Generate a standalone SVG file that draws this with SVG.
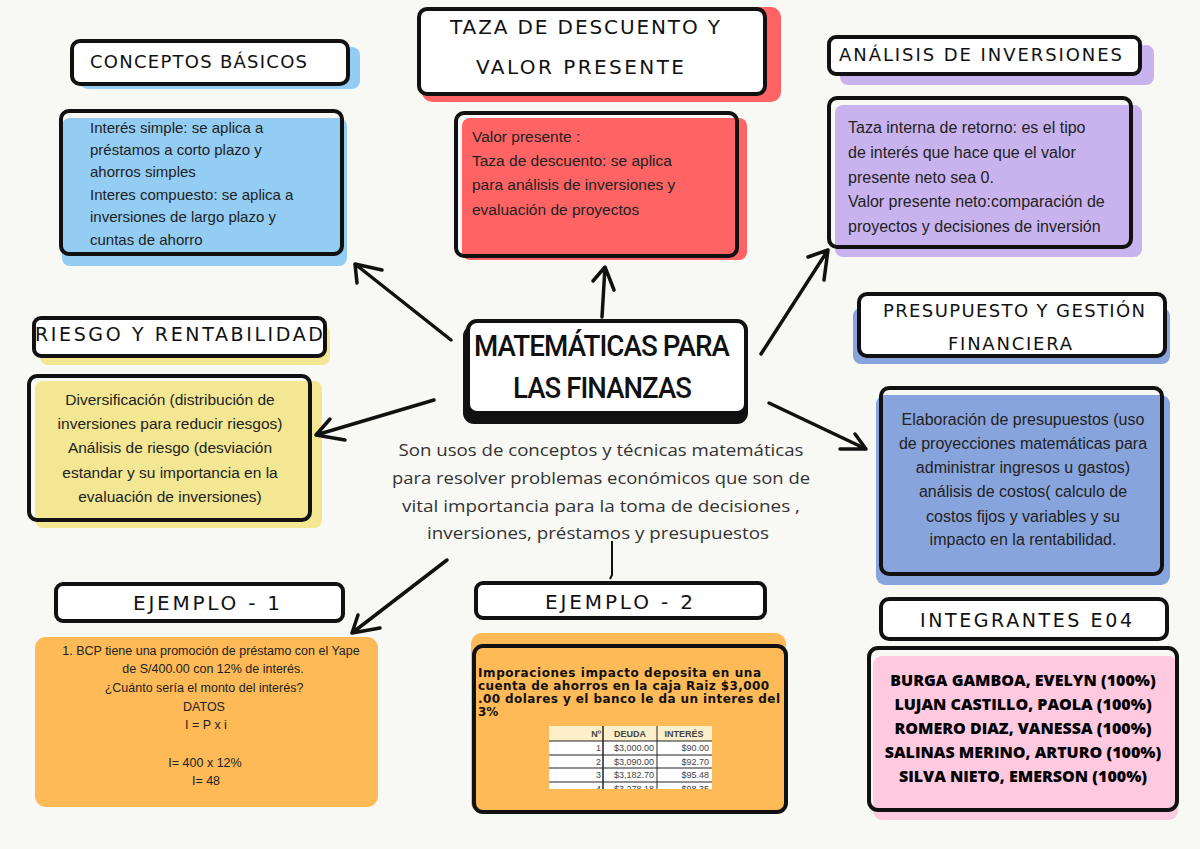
<svg xmlns="http://www.w3.org/2000/svg" width="1200" height="849" viewBox="0 0 1200 849">
<style>
.bd{stroke:#111;stroke-width:4;}
.tb{fill:#fff;stroke:#111;stroke-width:4;}
.tt{font-family:"DejaVu Sans",sans-serif;font-size:18px;fill:#111;}
.body{font-family:"Liberation Sans",sans-serif;font-size:15px;fill:#222;}
.desc{font-family:"Open Sans",sans-serif;font-size:17px;fill:#333;text-anchor:middle;}
.ex1{font-family:"Liberation Sans",sans-serif;font-size:12.5px;fill:#222;text-anchor:middle;}
.ex2{font-family:"DejaVu Sans",sans-serif;font-size:12px;font-weight:bold;fill:#111;}
.mem{font-family:"Open Sans",sans-serif;font-size:16px;font-weight:800;fill:#000;text-anchor:middle;}
.tbl{font-family:"Liberation Sans",sans-serif;font-size:9px;fill:#444;}
.arr{fill:none;stroke:#111;stroke-width:3.5;stroke-linecap:round;stroke-linejoin:round;}
</style>
<defs>
<clipPath id="tclip"><rect x="549" y="726" width="163" height="63"/></clipPath>
</defs>
<rect width="1200" height="849" fill="#f8f8f4"/>

<g id="conceptos">
<rect x="80" y="47" width="280" height="42" rx="8" fill="#93cdf3"/>
<rect class="tb" x="72" y="41" width="276" height="43" rx="8"/>
<text class="tt" x="90" y="68" textLength="217" lengthAdjust="spacing">CONCEPTOS BÁSICOS</text>
<rect x="62" y="118" width="285" height="148" rx="8" fill="#93cdf3"/>
<rect x="61" y="111" width="281" height="143" rx="8" fill="none" class="bd"/>
<text class="body" x="90" y="133">Interés simple: se aplica a</text>
<text class="body" x="90" y="155">préstamos a corto plazo y</text>
<text class="body" x="90" y="177">ahorros simples</text>
<text class="body" x="90" y="200">Interes compuesto: se aplica a</text>
<text class="body" x="90" y="222">inversiones de largo plazo y</text>
<text class="body" x="90" y="245">cuntas de ahorro</text>
</g>

<g id="taza">
<rect x="422" y="7" width="359" height="95" rx="10" fill="#ff6363"/>
<rect class="tb" x="419" y="9" width="346" height="85" rx="8"/>
<text class="tt" x="450" y="34" textLength="270" lengthAdjust="spacing" style="font-size:20px">TAZA DE DESCUENTO Y</text>
<text class="tt" x="476" y="74" textLength="208" lengthAdjust="spacing" style="font-size:20px">VALOR PRESENTE</text>
<rect x="462" y="118" width="285" height="142" rx="8" fill="#ff6363"/>
<rect x="456" y="113" width="281" height="143" rx="8" fill="none" class="bd"/>
<text class="body" x="472" y="142" style="font-size:15.5px">Valor presente :</text>
<text class="body" x="472" y="166" style="font-size:15.5px">Taza de descuento: se aplica</text>
<text class="body" x="472" y="190" style="font-size:15.5px">para análisis de inversiones y</text>
<text class="body" x="472" y="215" style="font-size:15.5px">evaluación de proyectos</text>
</g>

<g id="analisis">
<rect x="840" y="45" width="314" height="40" rx="8" fill="#c9b3ee"/>
<rect class="tb" x="829" y="37" width="311" height="37" rx="7"/>
<text class="tt" x="839" y="61" textLength="283" lengthAdjust="spacing">ANÁLISIS DE INVERSIONES</text>
<rect x="835" y="105" width="307" height="152" rx="8" fill="#c9b3ee"/>
<rect x="829" y="98" width="302" height="149" rx="8" fill="none" class="bd"/>
<text class="body" x="848" y="133" style="font-size:16px">Taza interna de retorno: es el tipo</text>
<text class="body" x="848" y="158" style="font-size:16px">de interés que hace que el valor</text>
<text class="body" x="848" y="183" style="font-size:16px">presente neto sea 0.</text>
<text class="body" x="848" y="207" style="font-size:16px">Valor presente neto:comparación de</text>
<text class="body" x="848" y="232" style="font-size:16px">proyectos y decisiones de inversión</text>
</g>

<g id="riesgo">
<rect x="40" y="325" width="290" height="40" rx="8" fill="#f3e793"/>
<rect class="tb" x="34" y="318" width="291" height="38" rx="7"/>
<text class="tt" x="35" y="341" textLength="288" lengthAdjust="spacing" style="font-size:19px">RIESGO Y RENTABILIDAD</text>
<rect x="35" y="381" width="287" height="147" rx="8" fill="#f3e793"/>
<rect x="29" y="376" width="281" height="144" rx="8" fill="none" class="bd"/>
<g class="body" text-anchor="middle" style="font-size:15.5px">
<text x="170" y="405">Diversificación (distribución de</text>
<text x="170" y="429">inversiones para reducir riesgos)</text>
<text x="170" y="453">Análisis de riesgo (desviación</text>
<text x="170" y="478">estandar y su importancia en la</text>
<text x="170" y="502">evaluación de inversiones)</text>
</g>
</g>

<g id="presupuesto">
<rect x="853" y="308" width="317" height="56" rx="8" fill="#88a4dc"/>
<rect class="tb" x="859" y="294" width="306" height="62" rx="8"/>
<text class="tt" x="883" y="317" textLength="262" lengthAdjust="spacing">PRESUPUESTO Y GESTIÓN</text>
<text class="tt" x="948" y="350" textLength="124" lengthAdjust="spacing">FINANCIERA</text>
<rect x="876" y="395" width="294" height="190" rx="9" fill="#88a4dc"/>
<rect x="881" y="388" width="281" height="186" rx="8" fill="none" class="bd"/>
<g class="body" text-anchor="middle" style="font-size:16px">
<text x="1023" y="425">Elaboración de presupuestos (uso</text>
<text x="1023" y="449">de proyecciones matemáticas para</text>
<text x="1023" y="473">administrar ingresos u gastos)</text>
<text x="1023" y="497">análisis de costos( calculo de</text>
<text x="1023" y="522">costos fijos y variables y su</text>
<text x="1023" y="545">impacto en la rentabilidad.</text>
</g>
</g>

<g id="centro">
<rect x="463" y="325" width="285" height="99" rx="11" fill="#111"/>
<rect x="468" y="321" width="278" height="92" rx="9" fill="#fff" stroke="#111" stroke-width="4"/>
<text x="474" y="356" textLength="255" lengthAdjust="spacingAndGlyphs" style="font-family:'Roboto',sans-serif;font-weight:500;font-size:30px;fill:#111;letter-spacing:-1px">MATEMÁTICAS PARA</text>
<text x="513" y="398" textLength="178" lengthAdjust="spacingAndGlyphs" style="font-family:'Roboto',sans-serif;font-weight:500;font-size:30px;fill:#111;letter-spacing:-1px">LAS FINANZAS</text>
</g>

<g id="descripcion">
<text class="desc" x="601" y="456" textLength="405" lengthAdjust="spacingAndGlyphs">Son usos de conceptos y técnicas matemáticas</text>
<text class="desc" x="601" y="484" textLength="418" lengthAdjust="spacingAndGlyphs">para resolver problemas económicos que son de</text>
<text class="desc" x="601" y="512" textLength="398" lengthAdjust="spacingAndGlyphs">vital importancia para la toma de decisiones ,</text>
<text class="desc" x="598" y="539" textLength="342" lengthAdjust="spacingAndGlyphs">inversiones,  préstamos y presupuestos</text>
</g>

<g id="ejemplo1">
<rect class="tb" x="56" y="584" width="287" height="37" rx="7"/>
<text class="tt" x="133" y="610" textLength="147" lengthAdjust="spacing" style="font-size:20px">EJEMPLO - 1</text>
<rect x="35" y="637" width="343" height="170" rx="11" fill="#fdba57"/>
<text class="ex1" x="211" y="655">1. BCP tiene una promoción de préstamo con el Yape</text>
<text class="ex1" x="213" y="673">de S/400.00 con 12% de interés.</text>
<text class="ex1" x="204" y="692">¿Cuánto sería el monto del interés?</text>
<text class="ex1" x="204" y="711">DATOS</text>
<text class="ex1" x="206" y="729">I = P x i</text>
<text class="ex1" x="205" y="767">I= 400 x 12%</text>
<text class="ex1" x="206" y="785">I= 48</text>
</g>

<g id="ejemplo2">
<rect class="tb" x="476" y="583" width="289" height="35" rx="7"/>
<text class="tt" x="545" y="609" textLength="148" lengthAdjust="spacing" style="font-size:20px">EJEMPLO - 2</text>
<rect x="471" y="633" width="315" height="180" rx="11" fill="#fdba57"/>
<rect x="474" y="646" width="312" height="166" rx="9" fill="none" class="bd"/>
<text class="ex2" x="478" y="677" textLength="283" lengthAdjust="spacing">Imporaciones impacto deposita en una</text>
<text class="ex2" x="478" y="690" textLength="291" lengthAdjust="spacing">cuenta de ahorros en la caja Raiz $3,000</text>
<text class="ex2" x="478" y="703" textLength="302" lengthAdjust="spacing">.00 dolares y el banco le da un interes del</text>
<text class="ex2" x="478" y="716">3%</text>
<g clip-path="url(#tclip)">
<rect x="549" y="726" width="163" height="70" fill="#fff"/>
<rect x="549" y="726" width="163" height="15" fill="#fdefc9"/>
<g stroke="#222" stroke-width="1">
<line x1="549" y1="741" x2="712" y2="741"/>
<line x1="549" y1="755" x2="712" y2="755"/>
<line x1="549" y1="768" x2="712" y2="768"/>
<line x1="549" y1="782" x2="712" y2="782"/>
<line x1="603" y1="726" x2="603" y2="790" stroke-width="1.5"/>
<line x1="657" y1="726" x2="657" y2="790"/>
</g>
<text class="tbl" x="601" y="737" text-anchor="end" font-weight="bold">Nº</text>
<text class="tbl" x="630" y="737" text-anchor="middle" font-weight="bold">DEUDA</text>
<text class="tbl" x="684" y="737" text-anchor="middle" font-weight="bold">INTERÉS</text>
<text class="tbl" x="601" y="751" text-anchor="end">1</text>
<text class="tbl" x="654" y="751" text-anchor="end">$3,000.00</text>
<text class="tbl" x="709" y="751" text-anchor="end">$90.00</text>
<text class="tbl" x="601" y="765" text-anchor="end">2</text>
<text class="tbl" x="654" y="765" text-anchor="end">$3,090.00</text>
<text class="tbl" x="709" y="765" text-anchor="end">$92.70</text>
<text class="tbl" x="601" y="778" text-anchor="end">3</text>
<text class="tbl" x="654" y="778" text-anchor="end">$3,182.70</text>
<text class="tbl" x="709" y="778" text-anchor="end">$95.48</text>
<text class="tbl" x="601" y="792" text-anchor="end">4</text>
<text class="tbl" x="654" y="792" text-anchor="end">$3,278.18</text>
<text class="tbl" x="709" y="792" text-anchor="end">$98.35</text>
</g>
</g>

<g id="integrantes">
<rect class="tb" x="881" y="599" width="286" height="40" rx="8"/>
<text class="tt" x="920" y="627" textLength="212" lengthAdjust="spacing" style="font-size:19px">INTEGRANTES E04</text>
<rect x="873" y="656" width="305" height="164" rx="9" fill="#ffc9df"/>
<rect x="869" y="648" width="308" height="162" rx="9" fill="none" class="bd"/>
<text class="mem" x="1023" y="686">BURGA GAMBOA, EVELYN (100%)</text>
<text class="mem" x="1023" y="710">LUJAN CASTILLO, PAOLA (100%)</text>
<text class="mem" x="1023" y="734">ROMERO DIAZ, VANESSA (100%)</text>
<text class="mem" x="1023" y="758">SALINAS MERINO, ARTURO (100%)</text>
<text class="mem" x="1023" y="782">SILVA NIETO, EMERSON (100%)</text>
</g>

<g id="conectores">
<path class="arr" d="M451,340 L355,264 M357,283 L355,264 L382,270"/>
<path class="arr" d="M602,317 L605,267 M593,281 L605,267 L614,290"/>
<path class="arr" d="M761,354 L828,250 M808,257 L828,250 L824,280"/>
<path class="arr" d="M434,400 L316,435 M330,419 L316,435 L345,440"/>
<path class="arr" d="M769,403 L866,449 M855,434 L866,449 L840,449"/>
<path class="arr" d="M447,560 L352,633 M358,615 L352,633 L380,628"/>
<path d="M612,541 L612,575 L610,579" fill="none" stroke="#111" stroke-width="2"/>
</g>
</svg>
